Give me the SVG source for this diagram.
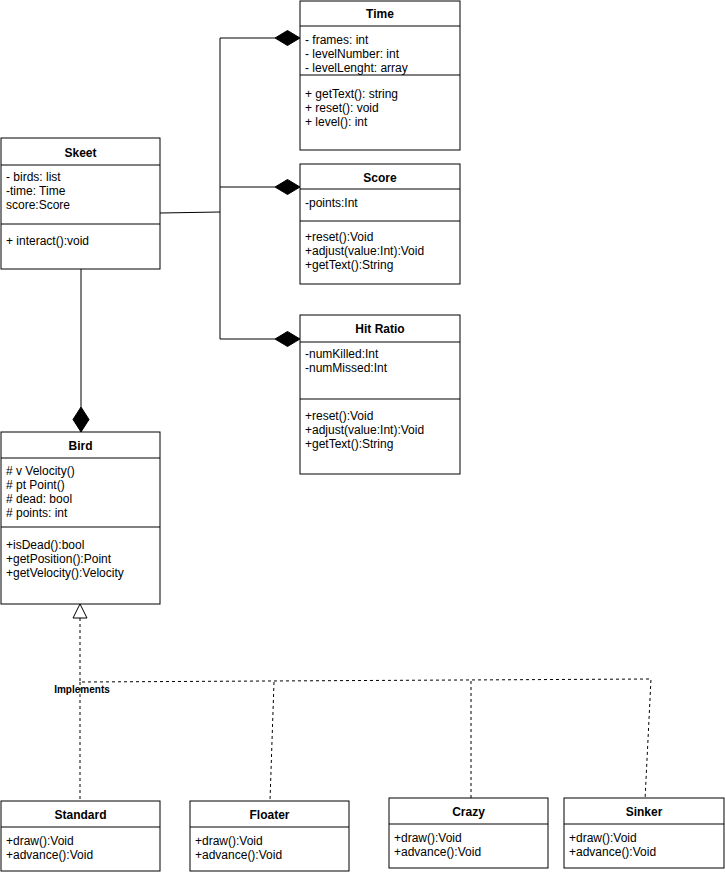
<svg xmlns="http://www.w3.org/2000/svg" width="725" height="875" viewBox="0 0 725 875">
<style>
.box{fill:#fff;stroke:#000;stroke-width:1}
.div{stroke:#000;stroke-width:1}
.t{font-family:"Liberation Sans",Arial,sans-serif;font-size:12px;fill:#000}
.h{font-family:"Liberation Sans",Arial,sans-serif;font-size:12px;font-weight:bold;fill:#000;text-anchor:middle}
.lbl{font-family:"Liberation Sans",Arial,sans-serif;font-size:10px;font-weight:bold;fill:#000;text-anchor:middle}
.ln{fill:none;stroke:#000;stroke-width:1}
.dash{fill:none;stroke:#000;stroke-width:1;stroke-dasharray:3,3}
.dia{fill:#000;stroke:#000}
.tri{fill:#fff;stroke:#000}
</style>
<rect width="725" height="875" fill="#fff"/>
<g id="connectors">
<polyline class="ln" points="160,213 220,212"/>
<polyline class="ln" points="275,38 220,38 220,339 275,339"/>
<line class="ln" x1="220" y1="187" x2="275" y2="187"/>
<polygon class="dia" points="300,38 287.5,30.5 275,38 287.5,45.5"/>
<polygon class="dia" points="300,187 287.5,179.5 275,187 287.5,194.5"/>
<polygon class="dia" points="300,339 287.5,331.5 275,339 287.5,346.5"/>
<line class="ln" x1="81" y1="269" x2="81" y2="407"/>
<polygon class="dia" points="81,432 73,419.5 81,407 89,419.5"/>
<polyline class="dash" points="80,618 80,682 651,679 645,800"/>
<line class="dash" x1="80" y1="682" x2="80" y2="801"/>
<line class="dash" x1="274" y1="682" x2="270" y2="801"/>
<line class="dash" x1="471" y1="681" x2="471" y2="798"/>
<polygon class="tri" points="80,604 73,618 87,618"/>
<text class="lbl" x="82" y="693">Implements</text>
</g>
<g id="time">
<rect class="box" x="300" y="1" width="160" height="149"/>
<line class="div" x1="300" y1="26" x2="460" y2="26"/>
<line class="div" x1="300" y1="75" x2="460" y2="75"/>
<text class="h" x="380" y="18">Time</text>
<text class="t" x="305" y="44">- frames: int</text>
<text class="t" x="305" y="58">- levelNumber: int</text>
<text class="t" x="305" y="72">- levelLenght: array</text>
<text class="t" x="305" y="98">+ getText(): string</text>
<text class="t" x="305" y="112">+ reset(): void</text>
<text class="t" x="305" y="126">+ level(): int</text>
</g>
<g id="skeet">
<rect class="box" x="1" y="138" width="159" height="131"/>
<line class="div" x1="1" y1="165" x2="160" y2="165"/>
<line class="div" x1="1" y1="224" x2="160" y2="224"/>
<text class="h" x="80.5" y="157">Skeet</text>
<text class="t" x="6" y="181">- birds: list</text>
<text class="t" x="6" y="195">-time: Time</text>
<text class="t" x="6" y="209">score:Score</text>
<text class="t" x="6" y="245">+ interact():void</text>
</g>
<g id="score">
<rect class="box" x="300" y="164" width="160" height="120"/>
<line class="div" x1="300" y1="189" x2="460" y2="189"/>
<line class="div" x1="300" y1="221" x2="460" y2="221"/>
<text class="h" x="380" y="182">Score</text>
<text class="t" x="305" y="207">-points:Int</text>
<text class="t" x="305" y="241">+reset():Void</text>
<text class="t" x="305" y="255">+adjust(value:Int):Void</text>
<text class="t" x="305" y="269">+getText():String</text>
</g>
<g id="hitratio">
<rect class="box" x="300" y="315" width="160" height="159"/>
<line class="div" x1="300" y1="342" x2="460" y2="342"/>
<line class="div" x1="300" y1="399" x2="460" y2="399"/>
<text class="h" x="380" y="333">Hit Ratio</text>
<text class="t" x="305" y="358">-numKilled:Int</text>
<text class="t" x="305" y="372">-numMissed:Int</text>
<text class="t" x="305" y="420">+reset():Void</text>
<text class="t" x="305" y="434">+adjust(value:Int):Void</text>
<text class="t" x="305" y="448">+getText():String</text>
</g>
<g id="bird">
<rect class="box" x="1" y="432" width="159" height="172"/>
<line class="div" x1="1" y1="458" x2="160" y2="458"/>
<line class="div" x1="1" y1="527" x2="160" y2="527"/>
<text class="h" x="80.5" y="450">Bird</text>
<text class="t" x="6" y="475"># v Velocity()</text>
<text class="t" x="6" y="489"># pt Point()</text>
<text class="t" x="6" y="503"># dead: bool</text>
<text class="t" x="6" y="517"># points: int</text>
<text class="t" x="6" y="549">+isDead():bool</text>
<text class="t" x="6" y="563">+getPosition():Point</text>
<text class="t" x="6" y="577">+getVelocity():Velocity</text>
</g>
<g id="standard">
<rect class="box" x="1" y="801" width="159" height="70"/>
<line class="div" x1="1" y1="827" x2="160" y2="827"/>
<text class="h" x="80.5" y="819">Standard</text>
<text class="t" x="6" y="845">+draw():Void</text>
<text class="t" x="6" y="859">+advance():Void</text>
</g>
<g id="floater">
<rect class="box" x="190" y="801" width="159" height="70"/>
<line class="div" x1="190" y1="827" x2="349" y2="827"/>
<text class="h" x="269.5" y="819">Floater</text>
<text class="t" x="195" y="845">+draw():Void</text>
<text class="t" x="195" y="859">+advance():Void</text>
</g>
<g id="crazy">
<rect class="box" x="389" y="798" width="159" height="70"/>
<line class="div" x1="389" y1="824" x2="548" y2="824"/>
<text class="h" x="468.5" y="816">Crazy</text>
<text class="t" x="394" y="842">+draw():Void</text>
<text class="t" x="394" y="856">+advance():Void</text>
</g>
<g id="sinker">
<rect class="box" x="564" y="798" width="160" height="70"/>
<line class="div" x1="564" y1="824" x2="724" y2="824"/>
<text class="h" x="644" y="816">Sinker</text>
<text class="t" x="569" y="842">+draw():Void</text>
<text class="t" x="569" y="856">+advance():Void</text>
</g>
</svg>
